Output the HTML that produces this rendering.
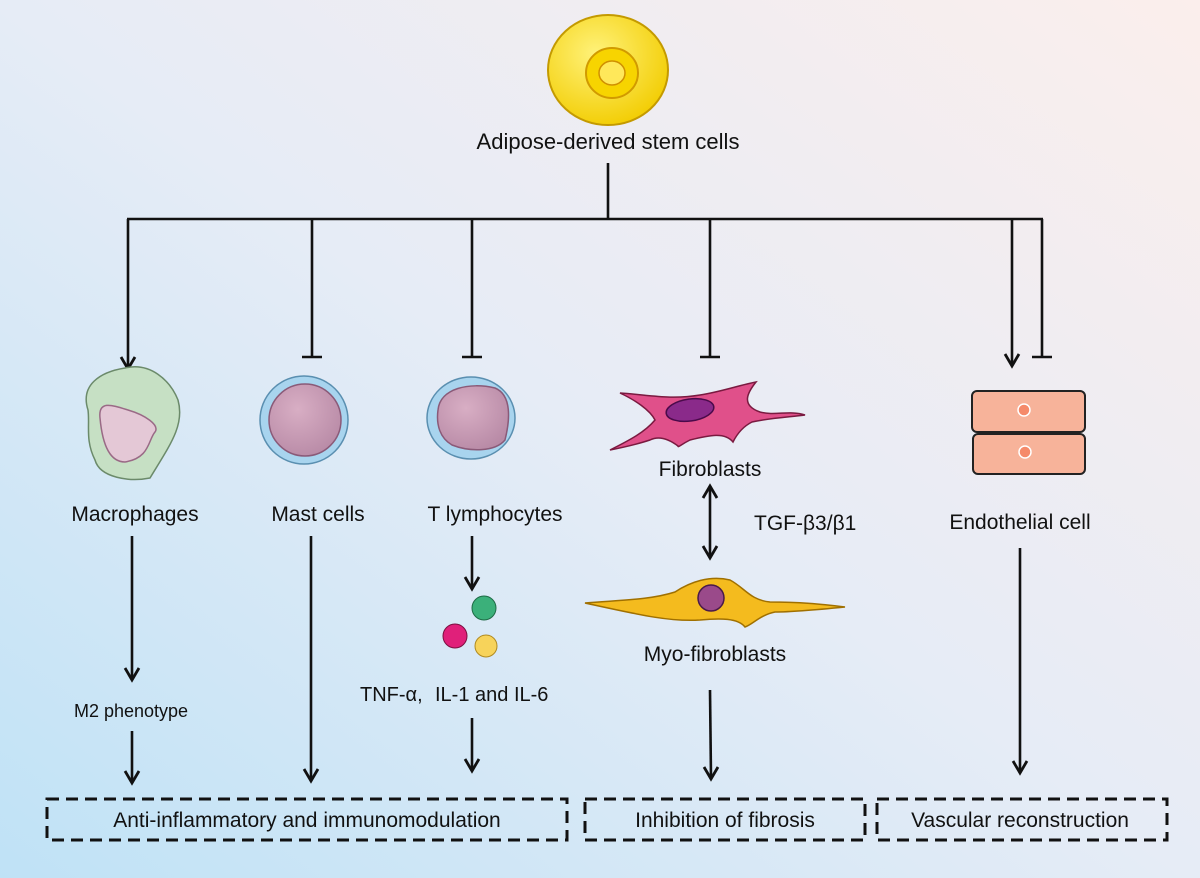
<!DOCTYPE html>
<html><head><meta charset="utf-8"><style>
html,body{margin:0;padding:0;width:1200px;height:878px;overflow:hidden}
svg{display:block}
text{font-family:"Liberation Sans",sans-serif;fill:#111}
</style></head><body>
<svg width="1200" height="878" viewBox="0 0 1200 878" xmlns="http://www.w3.org/2000/svg">
<defs>
<linearGradient id="bg" x1="1" y1="0" x2="0" y2="1">
<stop offset="0" stop-color="#fbeeec"/>
<stop offset="0.5" stop-color="#e6ecf6"/>
<stop offset="1" stop-color="#bfe2f6"/>
</linearGradient>
<radialGradient id="yel" cx="0.4" cy="0.35" r="0.7"><stop offset="0" stop-color="#fff27a"/><stop offset="1" stop-color="#f2cc00"/></radialGradient>
<radialGradient id="pur" cx="0.4" cy="0.35" r="0.7"><stop offset="0" stop-color="#d8aec4"/><stop offset="1" stop-color="#b88aa6"/></radialGradient>
</defs>
<rect width="1200" height="878" fill="url(#bg)"/>

<!-- stem cell -->
<ellipse cx="608" cy="70" rx="60" ry="55" fill="url(#yel)" stroke="#c49a00" stroke-width="2"/>
<ellipse cx="612" cy="73" rx="26" ry="25" fill="#f7d400" stroke="#d19a00" stroke-width="2"/>
<ellipse cx="612" cy="73" rx="13" ry="12" fill="#ffe85a" stroke="#d09000" stroke-width="1.5"/>
<text x="608" y="149" font-size="22" text-anchor="middle">Adipose-derived stem cells</text>

<g stroke="#111" stroke-width="2.6" fill="none">
<line x1="608" y1="163" x2="608" y2="219"/>
<line x1="127" y1="219" x2="1043" y2="219"/>
<line x1="128" y1="219" x2="128" y2="368"/>
<line x1="312" y1="219" x2="312" y2="357"/><line x1="302" y1="357" x2="322" y2="357"/>
<line x1="472" y1="219" x2="472" y2="357"/><line x1="462" y1="357" x2="482" y2="357"/>
<line x1="710" y1="219" x2="710" y2="357"/><line x1="700" y1="357" x2="720" y2="357"/>
<line x1="1012" y1="219" x2="1012" y2="365"/>
<line x1="1042" y1="219" x2="1042" y2="357"/><line x1="1032" y1="357" x2="1052" y2="357"/>

<line x1="132" y1="536" x2="132" y2="679"/>
<line x1="132" y1="731" x2="132" y2="782"/>
<line x1="311" y1="536" x2="311" y2="780"/>
<line x1="472" y1="536" x2="472" y2="588"/>
<line x1="472" y1="718" x2="472" y2="770"/>
<line x1="710" y1="487" x2="710" y2="557"/>
<line x1="710" y1="690" x2="711" y2="778"/>
<line x1="1020" y1="548" x2="1020" y2="772"/>
</g>
<g stroke="#111" stroke-width="2.8" fill="none" stroke-linejoin="miter">
<path d="M121,357 L128,369 L135,357"/>
<path d="M1005,354 L1012,366 L1019,354"/>
<path d="M125,668 L132,680 L139,668"/>
<path d="M125,771 L132,783 L139,771"/>
<path d="M304,769 L311,781 L318,769"/>
<path d="M465,577 L472,589 L479,577"/>
<path d="M465,759 L472,771 L479,759"/>
<path d="M703,498 L710,486 L717,498"/>
<path d="M703,546 L710,558 L717,546"/>
<path d="M704,767 L711,779 L718,767"/>
<path d="M1013,761 L1020,773 L1027,761"/>
</g>

<!-- macrophage -->
<path d="M88,410 C80,385 100,372 125,368 C150,362 170,380 178,400 C185,425 170,445 150,478 C130,482 100,478 95,460 C85,440 90,425 88,410Z" fill="#c6e0c4" stroke="#6b8a6a" stroke-width="1.5"/>
<path d="M100,418 C98,400 112,405 128,410 C145,415 160,425 155,432 C148,440 150,458 125,462 C108,462 102,440 100,418Z" fill="#e4c8d6" stroke="#9a6a86" stroke-width="1.5"/>
<!-- mast cell -->
<circle cx="304" cy="420" r="44" fill="#a8d4ee" stroke="#5a8fb0" stroke-width="1.5"/>
<circle cx="305" cy="420" r="36" fill="url(#pur)" stroke="#8a5a78" stroke-width="1.5"/>
<!-- T lymph -->
<ellipse cx="471" cy="418" rx="44" ry="41" fill="#a8d4ee" stroke="#5a8fb0" stroke-width="1.5"/>
<path d="M438,410 C440,388 470,382 495,388 C512,395 510,420 505,440 C495,452 470,452 452,445 C440,438 436,425 438,410Z" fill="url(#pur)" stroke="#8a5a78" stroke-width="1.5"/>
<!-- balls -->
<circle cx="484" cy="608" r="12" fill="#3bb07a" stroke="#1e6a45"/>
<circle cx="455" cy="636" r="12" fill="#e0207a" stroke="#7a1040"/>
<circle cx="486" cy="646" r="11" fill="#f7d35a" stroke="#b08a20"/>

<!-- fibroblast -->
<path d="M620,393 C650,395 670,400 700,395 C720,392 740,385 756,382 C748,392 740,405 760,412 C775,416 790,410 805,415 C790,417 770,418 752,422 C740,428 735,438 733,442 C725,432 710,435 690,440 C680,445 678,448 678,446 C670,440 660,435 650,440 C635,445 620,448 610,450 C630,440 645,432 655,420 C650,410 635,400 620,393Z" fill="#e0508a" stroke="#7a1a40" stroke-width="1.5"/>
<ellipse cx="690" cy="410" rx="24" ry="11" fill="#8a2a8a" stroke="#4a0a4a" stroke-width="1.5" transform="rotate(-8 690 410)"/>
<text x="710" y="476" font-size="21" text-anchor="middle">Fibroblasts</text>
<text x="754" y="530" font-size="21">TGF-β3/β1</text>

<!-- myofibroblast -->
<path d="M585,603 C620,600 650,600 675,592 C690,582 710,575 730,580 C745,588 750,600 770,602 C800,602 820,604 845,607 C815,610 790,612 775,612 C760,615 752,625 745,627 C738,618 720,618 700,620 C670,622 640,615 585,603Z" fill="#f4bb1e" stroke="#a07000" stroke-width="1.5"/>
<circle cx="711" cy="598" r="13" fill="#9a4a8a" stroke="#4a1a4a" stroke-width="1.5"/>
<text x="715" y="661" font-size="21" text-anchor="middle">Myo-fibroblasts</text>

<!-- endothelial -->
<rect x="972" y="391" width="113" height="41" rx="5" fill="#f7b39a" stroke="#222" stroke-width="2"/>
<rect x="973" y="434" width="112" height="40" rx="5" fill="#f7b39a" stroke="#222" stroke-width="2"/>
<circle cx="1024" cy="410" r="6" fill="#f58a6a" stroke="#fff" stroke-width="1.5"/>
<circle cx="1025" cy="452" r="6" fill="#f58a6a" stroke="#fff" stroke-width="1.5"/>

<text x="135" y="521" font-size="21" text-anchor="middle">Macrophages</text>
<text x="318" y="521" font-size="21" text-anchor="middle">Mast cells</text>
<text x="495" y="521" font-size="21" text-anchor="middle">T lymphocytes</text>
<text x="1020" y="529" font-size="21" text-anchor="middle">Endothelial cell</text>
<text x="131" y="717" font-size="18" text-anchor="middle">M2 phenotype</text>
<text x="360" y="701" font-size="20">TNF-α,</text>
<text x="435" y="701" font-size="20">IL-1 and IL-6</text>

<g fill="none" stroke="#111" stroke-width="3" stroke-dasharray="12,7">
<rect x="47" y="799" width="520" height="41"/>
<rect x="585" y="799" width="280" height="41"/>
<rect x="877" y="799" width="290" height="41"/>
</g>
<text x="307" y="827" font-size="21" text-anchor="middle">Anti-inflammatory and immunomodulation</text>
<text x="725" y="827" font-size="21" text-anchor="middle">Inhibition of fibrosis</text>
<text x="1020" y="827" font-size="21" text-anchor="middle">Vascular reconstruction</text>
</svg>
</body></html>
